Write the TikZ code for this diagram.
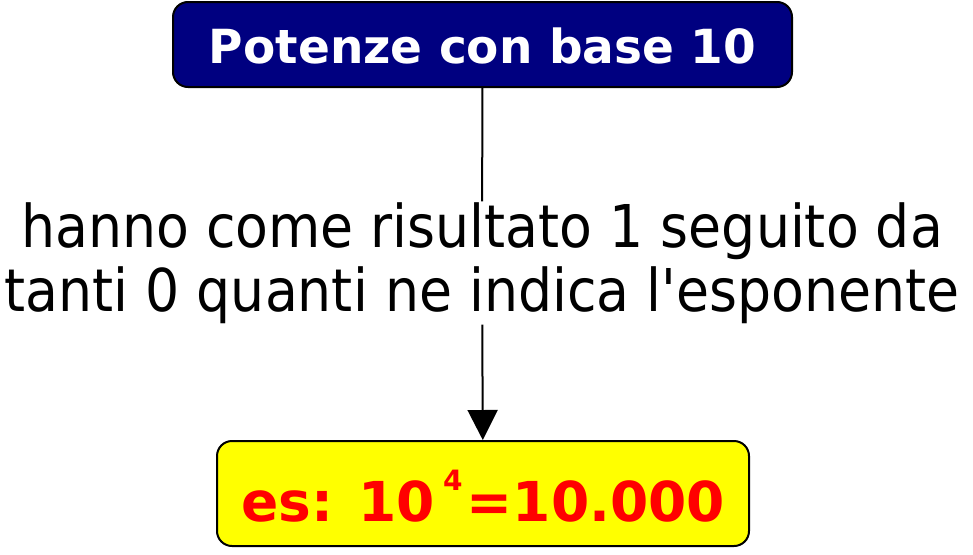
\documentclass[tikz,border=0pt]{standalone}
\usepackage{fontspec}
\setmainfont{DejaVu Sans}
\newfontfamily\lblfont[FakeStretch=0.91]{DejaVu Sans}
\usetikzlibrary{arrows.meta}
\definecolor{navyc}{RGB}{0,0,128}
\definecolor{yelc}{RGB}{255,255,0}
\definecolor{redc}{RGB}{255,0,0}
\tikzset{
  box/.style={draw=black, line width=2pt, rounded corners=15pt, inner sep=0pt, text depth=0pt},
  conn/.style={draw=black, line width=2pt},
}
\begin{document}
\begin{tikzpicture}[x=1pt,y=-1pt]
\useasboundingbox (0,0) rectangle (973,554);
\node[box, fill=navyc, text=white, minimum width=619pt, minimum height=85pt, text height=37pt,
  font=\bfseries\fontsize{47}{56}\selectfont] (top) at (482.5,44.5) {Potenze con base 10};
\node[box, fill=yelc, text=redc, minimum width=532pt, minimum height=105pt, text height=55pt,
  font=\bfseries\fontsize{55}{64}\selectfont] (bot) at (483,493.5)
  {es: 10\kern8pt{\fontsize{28}{28}\selectfont\raisebox{31pt}{4}}\kern4pt=10.000};
\node[inner sep=0pt, outer sep=1pt, align=center, font=\lblfont\fontsize{59}{64}\selectfont] (lbl) at (482,263)
  {hanno come risultato 1 seguito da\\tanti 0 quanti ne indica l'esponente};
\draw[conn] (top) -- (lbl);
\draw[conn, -{Triangle[width=30pt,length=30pt]}] (lbl) -- (bot);
\end{tikzpicture}
\end{document}
